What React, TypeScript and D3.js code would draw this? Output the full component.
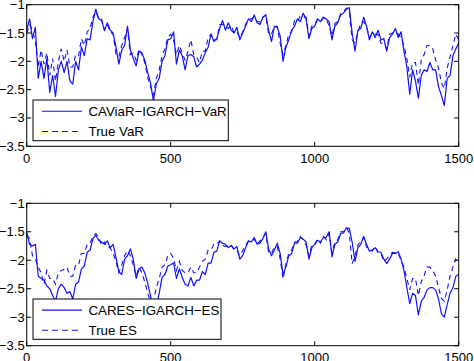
import React from "react";
import * as d3 from "d3";

const T_STEP = 10;
const xTicks = [0, 500, 1000, 1500];
const yTicks = [-1, -1.5, -2, -2.5, -3, -3.5];

const caviarVaR = [
  -1.45, -1.25, -1.6, -1.4, -2.3, -2.0, -2.3, -1.95, -2.55, -2.25,
  -2.62, -2.15, -2.0, -2.2, -2.0, -2.35, -2.4, -2.0, -2.15, -1.75,
  -1.9, -1.6, -1.62, -1.3, -1.08, -1.25, -1.28, -1.45, -1.32, -1.45,
  -1.5, -1.75, -2.05, -1.8, -1.72, -1.38, -1.8, -1.95, -2.08, -1.82,
  -1.85, -1.98, -2.2, -2.38, -2.7, -2.4, -2.3, -2.0, -1.9, -1.62,
  -1.6, -1.48, -2.05, -1.8, -1.9, -2.15, -1.9, -1.88, -1.92, -2.1,
  -2.05, -1.98, -1.85, -1.75, -1.52, -1.65, -1.6, -1.42, -1.28, -1.45,
  -1.32, -1.45, -1.5, -1.4, -1.62, -1.5, -1.38, -1.25, -1.3, -1.18,
  -1.32, -1.35, -1.22, -1.18, -1.45, -1.65, -1.38, -1.4, -1.55, -2.0,
  -1.75, -1.62, -1.45, -1.38, -1.25, -1.3, -1.15, -1.25, -1.6, -1.42,
  -1.38, -1.25, -1.3, -1.22, -1.25, -1.3, -1.62, -1.38, -1.32, -1.18,
  -1.15, -1.08, -1.05, -1.5, -1.82, -1.45, -1.42, -1.22, -1.38, -1.62,
  -1.48, -1.58, -1.45, -1.62, -1.6, -1.82, -1.58, -1.52, -1.42, -1.58,
  -1.48, -1.82, -2.1, -2.58, -2.15, -2.35, -2.65, -2.25, -2.15, -2.18,
  -2.02, -2.15, -2.15, -2.45, -2.6, -2.78, -2.3, -2.25, -1.9, -1.78,
  -1.68,
];

const trueVaR = [
  -1.5, -1.35, -1.45, -1.65, -2.1, -1.8, -2.05, -1.85, -2.25, -1.95,
  -2.35, -2.0, -1.78, -2.0, -1.8, -2.1, -2.1, -1.88, -1.9, -1.6,
  -1.72, -1.48, -1.42, -1.22, -1.12, -1.25, -1.25, -1.45, -1.35, -1.48,
  -1.52, -1.88, -1.92, -1.72, -1.58, -1.42, -1.88, -1.85, -1.98, -1.78,
  -1.88, -2.02, -2.28, -2.45, -2.6, -2.3, -2.15, -1.9, -1.78, -1.58,
  -1.52, -1.62, -1.88, -1.72, -1.85, -1.98, -1.82, -1.62, -1.88, -1.92,
  -2.02, -1.82, -1.82, -1.58, -1.52, -1.62, -1.62, -1.35, -1.35, -1.36,
  -1.42, -1.36, -1.5, -1.48, -1.58, -1.48, -1.35, -1.26, -1.25, -1.22,
  -1.3, -1.3, -1.22, -1.18, -1.52, -1.52, -1.38, -1.38, -1.68, -1.88,
  -1.72, -1.52, -1.48, -1.28, -1.3, -1.2, -1.22, -1.22, -1.55, -1.38,
  -1.35, -1.26, -1.3, -1.23, -1.25, -1.38, -1.55, -1.33, -1.3, -1.16,
  -1.12, -1.06, -1.12, -1.62, -1.68, -1.48, -1.33, -1.3, -1.38, -1.58,
  -1.5, -1.52, -1.53, -1.68, -1.68, -1.78, -1.52, -1.5, -1.48, -1.52,
  -1.58, -1.72, -1.95, -2.28, -2.02, -2.02, -2.42, -1.98, -1.88, -1.72,
  -1.72, -1.78, -1.98, -2.12, -2.38, -2.48, -2.12, -1.92, -1.72, -1.52,
  -1.62,
];

const caresES = [
  -1.5, -1.72, -1.75, -1.72, -2.28, -2.32, -2.35, -2.45, -2.5, -2.62,
  -2.72, -2.5, -2.42, -2.48, -2.58, -2.55, -2.68, -2.42, -2.38, -2.15,
  -2.1, -1.86, -1.82, -1.62, -1.56, -1.65, -1.68, -1.72, -1.66, -1.78,
  -1.72, -1.95, -2.2, -2.25, -1.98, -1.92, -1.8, -1.98, -2.32, -2.15,
  -2.12, -2.22, -2.4, -2.62, -2.92, -2.82, -2.58, -2.3, -2.25, -2.1,
  -2.08, -2.05, -2.32, -2.15, -2.3, -2.42, -2.45, -2.3, -2.45, -2.35,
  -2.35, -2.2, -2.25, -2.05, -2.05, -1.86, -1.84, -1.66, -1.7, -1.72,
  -1.78, -1.74, -1.8, -1.76, -1.98, -1.92, -1.78, -1.66, -1.68, -1.6,
  -1.72, -1.7, -1.62, -1.5, -1.8, -1.92, -1.82, -1.7, -1.88, -2.25,
  -2.12, -1.92, -1.88, -1.7, -1.7, -1.6, -1.63, -1.68, -1.98, -1.78,
  -1.72, -1.65, -1.68, -1.6, -1.6, -1.5, -1.94, -1.72, -1.68, -1.53,
  -1.52, -1.43, -1.44, -1.68, -2.02, -1.78, -1.72, -1.58, -1.72, -1.84,
  -1.82, -1.78, -1.85, -1.86, -1.98, -2.06, -1.98, -1.88, -1.88, -1.85,
  -1.98, -2.18, -2.48, -2.76, -2.58, -2.62, -2.96, -2.72, -2.65, -2.52,
  -2.48, -2.48, -2.52, -2.68, -2.94, -3.0, -2.78, -2.58, -2.48, -2.28,
  -2.25,
];

const trueES = [
  -1.55, -1.62, -1.92, -1.98, -2.12, -2.22, -2.42, -2.18, -2.32, -2.32,
  -2.42, -2.22, -2.18, -2.16, -2.12, -2.28, -2.28, -2.08, -2.08, -1.88,
  -1.88, -1.72, -1.7, -1.58, -1.53, -1.6, -1.74, -1.68, -1.77, -1.78,
  -1.88, -2.02, -2.22, -2.08, -1.92, -1.83, -1.92, -2.08, -2.28, -2.12,
  -2.22, -2.38, -2.58, -2.72, -2.72, -2.48, -2.32, -2.12, -2.08, -1.92,
  -1.88, -1.97, -2.18, -2.02, -2.18, -2.22, -2.22, -2.12, -2.22, -2.22,
  -2.12, -2.02, -1.98, -1.82, -1.82, -1.72, -1.72, -1.66, -1.74, -1.76,
  -1.74, -1.73, -1.82, -1.83, -1.92, -1.83, -1.74, -1.66, -1.67, -1.63,
  -1.72, -1.66, -1.6, -1.53, -1.87, -1.88, -1.77, -1.76, -1.97, -2.33,
  -2.07, -1.88, -1.82, -1.68, -1.67, -1.58, -1.64, -1.73, -1.92, -1.73,
  -1.72, -1.63, -1.7, -1.58, -1.64, -1.53, -1.87, -1.68, -1.64, -1.5,
  -1.5, -1.43, -1.52, -2.06, -1.92, -1.73, -1.67, -1.6, -1.77, -1.78,
  -1.84, -1.76, -1.87, -1.88, -2.02, -1.98, -1.92, -1.86, -1.87, -1.88,
  -2.0, -2.12, -2.32, -2.52, -2.32, -2.32, -2.62, -2.38, -2.27, -2.12,
  -2.12, -2.18, -2.28, -2.48, -2.67, -2.72, -2.52, -2.28, -2.12, -1.98,
  -2.05,
];

const panels = [
  { top: 4.7, bottom: 146.3, series: [caviarVaR, trueVaR], labels: ["CAViaR−IGARCH−VaR", "True VaR"], legend: { x0: 33, x1: 228.3, y0: 100, y1: 140.7 } },
  { top: 203.3, bottom: 345.7, series: [caresES, trueES], labels: ["CARES−IGARCH−ES", "True ES"], legend: { x0: 33, x1: 221, y0: 299, y1: 339.3 } },
];

const X0 = 26.7;
const X1 = 458.7;
const BLUE = "#1010ff";
const FONT = "Liberation Sans, Arial, Helvetica, sans-serif";
const fmt = (v: number) => (v < 0 ? "−" + String(Math.abs(v)) : String(v));

function Panel({ p }: { p: (typeof panels)[number] }) {
  const x = d3.scaleLinear().domain([0, 1500]).range([X0, X1]);
  const y = d3.scaleLinear().domain([-3.5, -1]).range([p.bottom, p.top]);
  const line = d3
    .line<number>()
    .x((_, i) => x(i * T_STEP))
    .y((d) => y(d));
  const tl = 4.5;
  const L = p.legend;
  const rowH = (L.y1 - L.y0) / 2;
  return (
    <g>
      <path d={line(p.series[1]) || ""} fill="none" stroke={BLUE} strokeWidth={1.1} strokeDasharray="5,4" />
      <path d={line(p.series[0]) || ""} fill="none" stroke={BLUE} strokeWidth={1.2} strokeLinejoin="round" />
      <rect x={X0} y={p.top} width={X1 - X0} height={p.bottom - p.top} fill="none" stroke="#000" strokeWidth={1} />
      {xTicks.map((t) => (
        <g key={"x" + t}>
          <line x1={x(t)} x2={x(t)} y1={p.bottom} y2={p.bottom - tl} stroke="#000" />
          <line x1={x(t)} x2={x(t)} y1={p.top} y2={p.top + tl} stroke="#000" />
          <text x={x(t)} y={p.bottom + 16.5} textAnchor="middle" fontSize={13} fontFamily={FONT} fill="#000">
            {t}
          </text>
        </g>
      ))}
      {yTicks.map((t) => (
        <g key={"y" + t}>
          <line x1={X0} x2={X0 + tl} y1={y(t)} y2={y(t)} stroke="#000" />
          <line x1={X1} x2={X1 - tl} y1={y(t)} y2={y(t)} stroke="#000" />
          <text x={X0 - 2} y={y(t) + 4.5} textAnchor="end" fontSize={13} fontFamily={FONT} fill="#000">
            {fmt(t)}
          </text>
        </g>
      ))}
      <rect x={L.x0} y={L.y0} width={L.x1 - L.x0} height={L.y1 - L.y0} fill="#fff" stroke="#000" strokeWidth={1} />
      {p.labels.map((lab, i) => {
        const cy = L.y0 + rowH * (i + 0.55);
        return (
          <g key={lab}>
            <line x1={42} x2={82} y1={cy} y2={cy} stroke={BLUE} strokeWidth={1.1} strokeDasharray={i === 1 ? "6,4" : undefined} />
            <text x={88.5} y={cy + 4.7} fontSize={13.3} fontFamily={FONT} fill="#000">
              {lab}
            </text>
          </g>
        );
      })}
    </g>
  );
}

export default function App() {
  return (
    <svg width={474} height={361} style={{ position: "absolute", left: 0, top: 0, background: "#fff" }}>
      <rect x={0} y={0} width={474} height={361} fill="#fff" />
      {panels.map((p, i) => (
        <Panel key={i} p={p} />
      ))}
    </svg>
  );
}
